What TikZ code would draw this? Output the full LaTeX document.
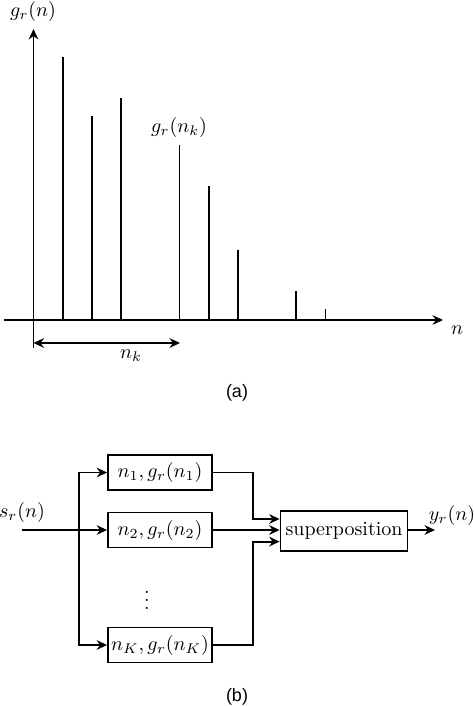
\documentclass[tikz,border=0pt]{standalone}
\usepackage{amsmath,amssymb}
\usepackage{fontspec}
\usepackage{tikz}
\usetikzlibrary{arrows.meta,calc,positioning}
\newfontfamily\capfont{Liberation Sans}
\tikzset{
  box/.style  = {draw, line width=0.9pt, fill=white, minimum width=52pt, minimum height=17.5pt,
                 inner sep=1pt},
  wire/.style = {line width=0.9pt},
  vec/.style  = {-{Stealth[length=5.2pt,width=4.8pt]}, line width=0.9pt},
  dvec/.style = {{Stealth[length=5.2pt,width=4.8pt]}-{Stealth[length=5.2pt,width=4.8pt]},
                 line width=0.9pt},
  capstyle/.style = {font=\capfont\fontsize{9}{11}\selectfont},
}

\begin{document}
\begin{tikzpicture}[x=0.5pt,y=-0.5pt]
  \useasboundingbox (0,0) rectangle (474,706);
  % (a) impulse response
  \coordinate (o) at (33.5,320);
  \coordinate (xe) at (443,320);
  \coordinate (xs) at (4,320);
  \coordinate (ye) at (33.5,29);
  \coordinate (ys) at (33.5,348);
  \draw[vec] (xs) -- (xe);
  \draw[vec] (ys) -- (ye);
  \node (gl) at (33,12) {$g_r(n)$};
  \node (nl) at (457,330) {$n$};
  \foreach \i/\h in {1/262.7,2/204,3/221.7,5/175,6/134,7/70,9/29,10/11.3}
    \draw[wire] ($(o)+(29.2*\i,0)$) -- ++(0,-\h);
  \node (gk) at (179,128) {$g_r(n_k)$};
  \coordinate (k0) at (33.5,343);
  \coordinate (k1) at (180,343);
  \draw[dvec] (k0) -- (k1);
  \node (nk) at (131,356) {$n_k$};
  \node[capstyle] (capa) at (237,393) {(a)};
  %
  % (b) block diagram
  \node[box] (b1) at (160,472.5) {$n_1, g_r(n_1)$};
  \node[box] (b2) at (160,530) {$n_2, g_r(n_2)$};
  \node[box] (bK) at (160,645) {$n_K, g_r(n_K)$};
  \node (dots) at (147,594) {$\vdots$};
  \node[box, minimum width=63.5pt, minimum height=20.3pt] (sup) at (344,531) {superposition};
  \coordinate (in) at (22,530);
  \coordinate (sp) at (79,530);
  \coordinate (out) at (435,530);
  \node (sl) at (22,512) {$s_r(n)$};
  \node (yl) at (452,515) {$y_r(n)$};
  \draw[wire] (in) -- (sp);
  \draw[vec] (sp) |- (b1);
  \draw[vec] (sp) -- (b2);
  \draw[vec] (sp) |- (bK);
  \draw[vec] (b1.east) -- ++(40,0) |- ([yshift=5.5pt]b2.east -| sup.west);
  \draw[vec] (b2.east) -- (b2.east -| sup.west);
  \draw[vec] (bK.east) -- ++(40,0) |- ([yshift=-5.8pt]b2.east -| sup.west);
  \draw[vec] (sup.east |- out) -- (out);
  \node[capstyle] (capb) at (237,697) {(b)};
\end{tikzpicture}
\end{document}
